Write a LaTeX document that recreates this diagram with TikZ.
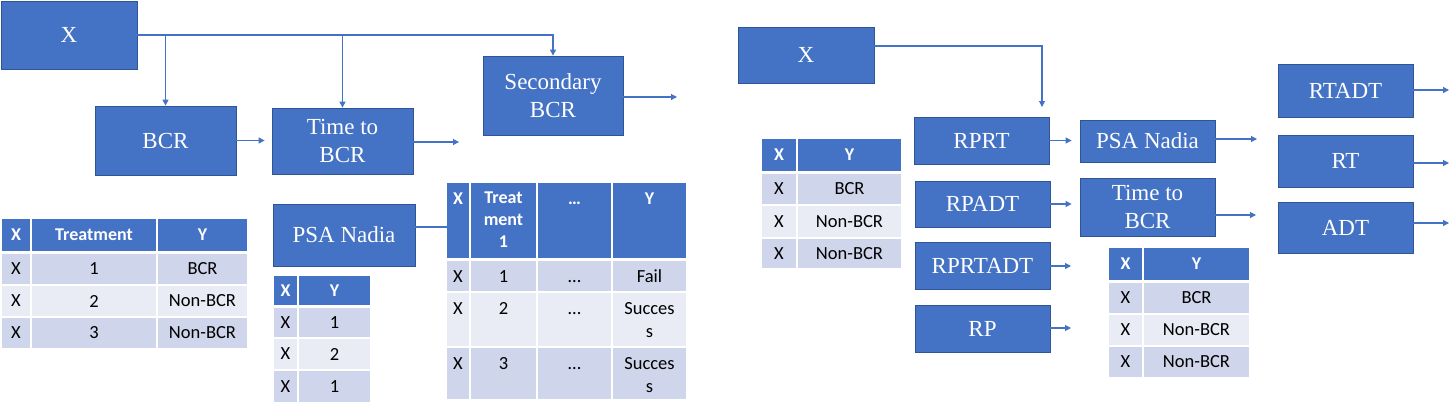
\documentclass[tikz,border=0pt]{standalone}
\usepackage{fontspec}
\newfontfamily\boxfont{Liberation Serif}
\newfontfamily\tabfont{Carlito}
\usetikzlibrary{arrows.meta}
\definecolor{boxblue}{HTML}{4472C4}
\definecolor{boxedge}{HTML}{2F5597}
\definecolor{rowdark}{HTML}{CFD5EA}
\definecolor{rowlight}{HTML}{E9EBF5}
\tikzset{
  box/.style={draw=boxedge, line width=0.8pt, fill=boxblue, text=white,
    font=\boxfont\fontsize{23}{28}\selectfont, align=center, inner sep=2pt},
  conn/.style={draw=boxblue, line width=1.1pt, -{Triangle[length=6pt,width=6pt]}},
  plainconn/.style={draw=boxblue, line width=1.1pt},
  th/.style={text=white, font=\tabfont\bfseries\fontsize{18}{22}\selectfont, align=center, inner sep=0pt},
  td/.style={text=black, font=\tabfont\fontsize{18.5}{23}\selectfont, align=center, inner sep=0pt},
}
% centred cell: name, x1, y1, x2, y2, fill, text style, text
\newcommand{\tc}[8]{\fill[#6] (#2,#3) rectangle (#4,#5);
  \node[#7] (#1) at ({(#2+#4)/2},{(#3+#5)/2}) {#8};}
% top aligned single line cell
\newcommand{\tcb}[8]{\fill[#6] (#2,#3) rectangle (#4,#5);
  \node[#7, anchor=base] (#1) at ({(#2+#4)/2},{#3+21}) {#8};}
% top aligned multi line cell
\newcommand{\tcn}[8]{\fill[#6] (#2,#3) rectangle (#4,#5);
  \node[#7, anchor=north] (#1) at ({(#2+#4)/2},{#3+9}) {#8};}
\begin{document}
\begin{tikzpicture}[x=1pt,y=-1pt]
\useasboundingbox (0,0) rectangle (1456,410);
\fill[white] (0,0) rectangle (1456,410);

% ---------------- left part ----------------
\node[box, minimum width=136pt, minimum height=68pt] (X1) at (69,35) {X};
\node[box, minimum width=141pt, minimum height=69pt] (BCR) at (165.5,140.5) {BCR};
\node[box, minimum width=141pt, minimum height=66pt] (TimeL) at (342.5,141) {Time to\\BCR};
\node[box, minimum width=140pt, minimum height=79pt] (Sec) at (553,95.5) {Secondary\\BCR};
\node[box, minimum width=142pt, minimum height=62pt] (PSAL) at (344,235) {PSA Nadia};

\coordinate (eTimeL) at (459,142);
\coordinate (eSec) at (677,97);
\coordinate (t3edge) at (447,227);

\draw[conn] (X1.east) -| (Sec.north);
\draw[conn] (X1.east -| BCR.north) -- (BCR.north);
\draw[conn] (X1.east -| TimeL.north) -- (TimeL.north);
\draw[conn, shorten >=7pt] (BCR.east) -- (BCR.east -| TimeL.west);
\draw[conn] (TimeL.east |- eTimeL) -- (eTimeL);
\draw[conn] (Sec.east |- eSec) -- (eSec);
\draw[plainconn] (PSAL.east |- t3edge) -- (t3edge);

% table 1
\tc{a00}{2}{219}{30}{251}{boxblue}{th}{X}
\tc{a01}{32}{219}{156}{251}{boxblue}{th}{Treatment}
\tc{a02}{158}{219}{247}{251}{boxblue}{th}{Y}
\tc{a10}{2}{254}{30}{284}{rowdark}{td}{X}
\tc{a11}{32}{254}{156}{284}{rowdark}{td}{1}
\tc{a12}{158}{254}{247}{284}{rowdark}{td}{BCR}
\tc{a20}{2}{286}{30}{316}{rowlight}{td}{X}
\tc{a21}{32}{286}{156}{316}{rowlight}{td}{2}
\tc{a22}{158}{286}{247}{316}{rowlight}{td}{Non-BCR}
\tc{a30}{2}{318}{30}{348}{rowdark}{td}{X}
\tc{a31}{32}{318}{156}{348}{rowdark}{td}{3}
\tc{a32}{158}{318}{247}{348}{rowdark}{td}{Non-BCR}

% table 2
\tc{b00}{274}{276}{297}{305}{boxblue}{th}{X}
\tc{b01}{299}{276}{370}{305}{boxblue}{th}{Y}
\tc{b10}{274}{308}{297}{337}{rowdark}{td}{X}
\tc{b11}{299}{308}{370}{337}{rowdark}{td}{1}
\tc{b20}{274}{339}{297}{369}{rowlight}{td}{X}
\tc{b21}{299}{339}{370}{369}{rowlight}{td}{2}
\tc{b30}{274}{371}{297}{402}{rowdark}{td}{X}
\tc{b31}{299}{371}{370}{402}{rowdark}{td}{1}

% table 3
\tcb{c00}{447}{183}{469}{258}{boxblue}{th}{X}
\tcn{c01}{471}{183}{536}{258}{boxblue}{th}{Treat\\ment\\1}
\tcb{c02}{538}{183}{611}{258}{boxblue}{th}{…}
\tcb{c03}{613}{183}{686}{258}{boxblue}{th}{Y}
\tcb{c10}{447}{261}{469}{291}{rowdark}{td}{X}
\tcb{c11}{471}{261}{536}{291}{rowdark}{td}{1}
\tcb{c12}{538}{261}{611}{291}{rowdark}{td}{…}
\tcb{c13}{613}{261}{686}{291}{rowdark}{td}{Fail}
\tcb{c20}{447}{293}{469}{346}{rowlight}{td}{X}
\tcb{c21}{471}{293}{536}{346}{rowlight}{td}{2}
\tcb{c22}{538}{293}{611}{346}{rowlight}{td}{…}
\tcn{c23}{613}{293}{686}{346}{rowlight}{td}{Succes\\s}
\tcb{c30}{447}{348}{469}{399}{rowdark}{td}{X}
\tcb{c31}{471}{348}{536}{399}{rowdark}{td}{3}
\tcb{c32}{538}{348}{611}{399}{rowdark}{td}{…}
\tcn{c33}{613}{348}{686}{399}{rowdark}{td}{Succes\\s}

% ---------------- right part ----------------
\node[box, minimum width=136pt, minimum height=56pt] (X2) at (806,55) {X};
\node[box, minimum width=135pt, minimum height=47pt] (RPRT) at (981.5,140.5) {RPRT};
\node[box, minimum width=135pt, minimum height=46pt] (RPADT) at (982.5,204) {RPADT};
\node[box, minimum width=135pt, minimum height=47pt] (RPRTADT) at (982.5,265.5) {RPRTADT};
\node[box, minimum width=135pt, minimum height=47pt] (RP) at (982.5,328.5) {RP};
\node[box, minimum width=135pt, minimum height=42pt] (PSAR) at (1147.5,141) {PSA Nadia};
\node[box, minimum width=135pt, minimum height=58pt] (TimeR) at (1147.5,207) {Time to\\BCR};
\node[box, minimum width=135pt, minimum height=53pt] (RTADT) at (1345.5,90.5) {RTADT};
\node[box, minimum width=135pt, minimum height=52pt] (RT) at (1345.5,161) {RT};
\node[box, minimum width=135pt, minimum height=51pt] (ADT) at (1345.5,227.5) {ADT};

\coordinate (x2out) at (874,46);
\coordinate (x2end) at (1042,107);
\coordinate (ePSAR) at (1257,139);
\coordinate (eTimeR) at (1256,215);
\coordinate (eRPRTADT) at (1071,266);
\coordinate (eRP) at (1071,328);
\coordinate (eRTADT) at (1449,90);
\coordinate (eRT) at (1449,163);
\coordinate (eADT) at (1449,223);

\draw[conn] (X2.east |- x2out) -| (x2end);
\draw[conn, shorten >=8pt] (RPRT.east) -- (RPRT.east -| PSAR.west);
\draw[conn, shorten >=8pt] (RPADT.east) -- (RPADT.east -| TimeR.west);
\draw[conn] (PSAR.east |- ePSAR) -- (ePSAR);
\draw[conn] (TimeR.east |- eTimeR) -- (eTimeR);
\draw[conn] (RPRTADT.east |- eRPRTADT) -- (eRPRTADT);
\draw[conn] (RP.east |- eRP) -- (eRP);
\draw[conn] (RTADT.east |- eRTADT) -- (eRTADT);
\draw[conn] (RT.east |- eRT) -- (eRT);
\draw[conn] (ADT.east |- eADT) -- (eADT);

% table A
\tc{d00}{762}{139}{796}{171}{boxblue}{th}{X}
\tc{d01}{798}{139}{901}{171}{boxblue}{th}{Y}
\tc{d10}{762}{174}{796}{204}{rowdark}{td}{X}
\tc{d11}{798}{174}{901}{204}{rowdark}{td}{BCR}
\tc{d20}{762}{206}{796}{237}{rowlight}{td}{X}
\tc{d21}{798}{206}{901}{237}{rowlight}{td}{Non-BCR}
\tc{d30}{762}{239}{796}{268}{rowdark}{td}{X}
\tc{d31}{798}{239}{901}{268}{rowdark}{td}{Non-BCR}

% table B
\tc{e00}{1109}{248}{1142}{280}{boxblue}{th}{X}
\tc{e01}{1144}{248}{1249}{280}{boxblue}{th}{Y}
\tc{e10}{1109}{283}{1142}{313}{rowdark}{td}{X}
\tc{e11}{1144}{283}{1249}{313}{rowdark}{td}{BCR}
\tc{e20}{1109}{315}{1142}{345}{rowlight}{td}{X}
\tc{e21}{1144}{315}{1249}{345}{rowlight}{td}{Non-BCR}
\tc{e30}{1109}{347}{1142}{377}{rowdark}{td}{X}
\tc{e31}{1144}{347}{1249}{377}{rowdark}{td}{Non-BCR}
\end{tikzpicture}
\end{document}
